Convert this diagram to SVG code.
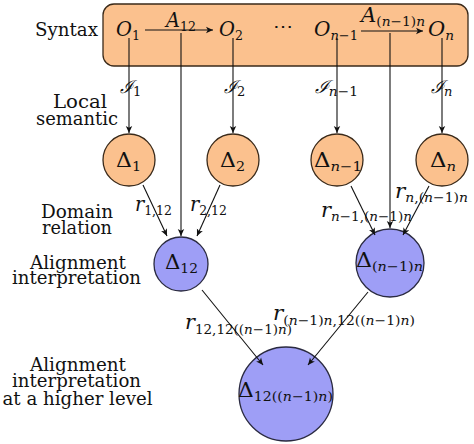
<svg xmlns="http://www.w3.org/2000/svg" width="474" height="444" viewBox="0 0 474 444" font-family="DejaVu Serif, serif">
<defs>
<marker id="ah" markerWidth="8" markerHeight="8" refX="7" refY="4" orient="auto" markerUnits="userSpaceOnUse">
<path d="M0,0.8 L7,4 L0,7.2 L1.8,4 Z" fill="#111"/>
</marker>
</defs>
<style>
.t{font-size:19px;fill:#111}
.lab{text-anchor:middle}
.m{font-size:20px;fill:#111;font-style:italic}
.g{font-size:20px;fill:#111}
.s{font-size:13px;font-style:normal}
.si{font-size:13px;font-style:italic}
.cal{font-style:italic;font-size:18px;fill:#111}
.e{stroke:#111;stroke-width:1.1;fill:none;marker-end:url(#ah)}
.or{fill:#FBC18E;stroke:#3a2a1a;stroke-width:1.3}
.bl{fill:#9E9EF6;stroke:#2a2a40;stroke-width:1.3}
</style>
<rect width="474" height="444" fill="#fff"/>

<g id="labels" font-family="DejaVu Serif, serif">
<text class="t lab" x="66.5" y="36" textLength="63" lengthAdjust="spacingAndGlyphs">Syntax</text>
<text class="t lab" x="80" y="108" textLength="54" lengthAdjust="spacingAndGlyphs">Local</text>
<text class="t lab" x="77" y="125" textLength="82" lengthAdjust="spacingAndGlyphs">semantic</text>
<text class="t lab" x="77" y="218" textLength="72" lengthAdjust="spacingAndGlyphs">Domain</text>
<text class="t lab" x="77" y="234" textLength="70" lengthAdjust="spacingAndGlyphs">relation</text>
<text class="t lab" x="78" y="269" textLength="96" lengthAdjust="spacingAndGlyphs">Alignment</text>
<text class="t lab" x="76.5" y="284" textLength="129" lengthAdjust="spacingAndGlyphs">interpretation</text>
<text class="t lab" x="78" y="371" textLength="96" lengthAdjust="spacingAndGlyphs">Alignment</text>
<text class="t lab" x="76.5" y="387" textLength="129" lengthAdjust="spacingAndGlyphs">interpretation</text>
<text class="t lab" x="77.5" y="405" textLength="150" lengthAdjust="spacingAndGlyphs">at a higher level</text>
</g>

<g id="syntax" font-family="DejaVu Serif, serif">
<rect class="or" x="103" y="4" width="365" height="62" rx="11"/>
<text class="m" x="116" y="36" textLength="24" lengthAdjust="spacingAndGlyphs">O<tspan class="s" dy="4">1</tspan></text>
<text class="m" x="219" y="36" textLength="24" lengthAdjust="spacingAndGlyphs">O<tspan class="s" dy="4">2</tspan></text>
<text class="g" x="273" y="33">⋯</text>
<text class="m" x="314" y="36" textLength="44" lengthAdjust="spacingAndGlyphs">O<tspan class="si" dy="4">n</tspan><tspan class="s">−1</tspan></text>
<text class="m" x="428" y="36" textLength="26" lengthAdjust="spacingAndGlyphs">O<tspan class="si" dy="4">n</tspan></text>
<text class="m" x="166" y="27" textLength="30" lengthAdjust="spacingAndGlyphs">A<tspan class="s" dy="4">12</tspan></text>
<text class="m" x="361" y="22" textLength="64" lengthAdjust="spacingAndGlyphs">A<tspan class="s" dy="4">(</tspan><tspan class="si">n</tspan><tspan class="s">−1)</tspan><tspan class="si">n</tspan></text>
</g>

<g id="d1" font-family="DejaVu Serif, serif"><circle class="or" cx="129" cy="160" r="26"/><text class="g" x="116" y="167" textLength="25" lengthAdjust="spacingAndGlyphs">Δ<tspan class="s" dy="4">1</tspan></text></g>
<g id="d2" font-family="DejaVu Serif, serif"><circle class="or" cx="233" cy="160" r="26"/><text class="g" x="220" y="167" textLength="25" lengthAdjust="spacingAndGlyphs">Δ<tspan class="s" dy="4">2</tspan></text></g>
<g id="dn1" font-family="DejaVu Serif, serif"><circle class="or" cx="337" cy="160" r="26"/><text class="g" x="314" y="167" textLength="48" lengthAdjust="spacingAndGlyphs">Δ<tspan class="si" dy="4">n</tspan><tspan class="s">−1</tspan></text></g>
<g id="dn" font-family="DejaVu Serif, serif"><circle class="or" cx="442" cy="160" r="26"/><text class="g" x="430" y="167" textLength="26" lengthAdjust="spacingAndGlyphs">Δ<tspan class="si" dy="4">n</tspan></text></g>
<g id="d12" font-family="DejaVu Serif, serif"><circle class="bl" cx="181" cy="264" r="27"/><text class="g" x="165" y="269" textLength="33" lengthAdjust="spacingAndGlyphs">Δ<tspan class="s" dy="4">12</tspan></text></g>
<g id="dn1n" font-family="DejaVu Serif, serif"><circle class="bl" cx="390" cy="263" r="34"/><text class="g" x="356" y="267" textLength="67" lengthAdjust="spacingAndGlyphs">Δ<tspan class="s" dy="4">(</tspan><tspan class="si">n</tspan><tspan class="s">−1)</tspan><tspan class="si">n</tspan></text></g>
<g id="dtop" font-family="DejaVu Serif, serif"><circle class="bl" cx="286" cy="394" r="47"/><text class="g" x="238" y="397" textLength="95" lengthAdjust="spacingAndGlyphs">Δ<tspan class="s" dy="4">12((</tspan><tspan class="si">n</tspan><tspan class="s">−1)</tspan><tspan class="si">n</tspan><tspan class="s">)</tspan></text></g>

<g id="connectors" font-family="DejaVu Serif, serif">
<line class="e" x1="145" y1="30" x2="213" y2="30"/>
<line class="e" x1="361" y1="31" x2="423" y2="31"/>
<line class="e" x1="129" y1="38" x2="129" y2="133"/>
<line class="e" x1="233" y1="38" x2="233" y2="133"/>
<line class="e" x1="337" y1="38" x2="337" y2="133"/>
<line class="e" x1="442" y1="38" x2="442" y2="133"/>
<line class="e" x1="181" y1="33" x2="181" y2="236"/>
<line class="e" x1="390" y1="33" x2="390" y2="228"/>
<line class="e" x1="143" y1="185" x2="167" y2="236"/>
<line class="e" x1="220" y1="185" x2="197" y2="236"/>
<line class="e" x1="351" y1="186" x2="375" y2="235"/>
<line class="e" x1="429" y1="186" x2="403" y2="235"/>
<line class="e" x1="202" y1="290" x2="263" y2="365"/>
<line class="e" x1="368" y1="292" x2="308" y2="365"/>
<text class="cal" x="120" y="93">ℐ<tspan class="s" dy="3">1</tspan></text>
<text class="cal" x="224" y="93">ℐ<tspan class="s" dy="3">2</tspan></text>
<text class="cal" x="315" y="93" textLength="43" lengthAdjust="spacingAndGlyphs">ℐ<tspan class="si" dy="3">n</tspan><tspan class="s">−1</tspan></text>
<text class="cal" x="431" y="93">ℐ<tspan class="si" dy="3">n</tspan></text>
<text class="m" x="135" y="211" textLength="37" lengthAdjust="spacingAndGlyphs">r<tspan class="s" dy="4">1,12</tspan></text>
<text class="m" x="190" y="211" textLength="37" lengthAdjust="spacingAndGlyphs">r<tspan class="s" dy="4">2,12</tspan></text>
<text class="m" x="321" y="217" textLength="91" lengthAdjust="spacingAndGlyphs">r<tspan class="si" dy="4">n</tspan><tspan class="s">−1,(</tspan><tspan class="si">n</tspan><tspan class="s">−1)</tspan><tspan class="si">n</tspan></text>
<text class="m" x="395" y="198" textLength="73" lengthAdjust="spacingAndGlyphs">r<tspan class="si" dy="4">n</tspan><tspan class="s">,(</tspan><tspan class="si">n</tspan><tspan class="s">−1)</tspan><tspan class="si">n</tspan></text>
<text class="m" x="185" y="329" textLength="107" lengthAdjust="spacingAndGlyphs">r<tspan class="s" dy="5">12,12((</tspan><tspan class="si">n</tspan><tspan class="s">−1)</tspan><tspan class="si">n</tspan><tspan class="s">)</tspan></text>
<text class="m" x="273" y="320" textLength="142" lengthAdjust="spacingAndGlyphs">r<tspan class="s" dy="5">(</tspan><tspan class="si">n</tspan><tspan class="s">−1)</tspan><tspan class="si">n</tspan><tspan class="s">,12((</tspan><tspan class="si">n</tspan><tspan class="s">−1)</tspan><tspan class="si">n</tspan><tspan class="s">)</tspan></text>
</g>
</svg>
